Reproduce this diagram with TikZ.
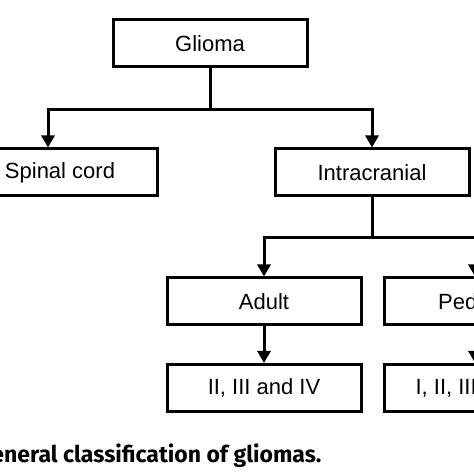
\documentclass[tikz,border=0pt]{standalone}
\usepackage{fontspec}
\setmainfont{Liberation Sans}
\newfontfamily\capfont{Fira Sans}
\usetikzlibrary{arrows.meta,positioning}

\begin{document}
\begin{tikzpicture}[on grid,x=1pt,y=1pt]
	\tikzstyle{class}=[draw,rectangle,line width=3pt,minimum width=194pt,minimum height=47pt,inner sep=0pt,font=\fontsize{22}{26}\selectfont]
	\tikzstyle{branch}=[line width=3pt,-{Triangle[width=13pt,length=12pt]}]
	
	\useasboundingbox (0,0) rectangle (474,474);
	\clip (0,0) rectangle (474,474);
	
	%
	% glioma and its sites
	%
	\node [class] (glioma) at (210,430.5) {Glioma};
	\node [class,below left=129pt and 150pt of glioma] (spinal) {Spinal cord};
	\node [class,below right=129pt and 162pt of glioma] (intra) {Intracranial};
	
	\begin{scope}[branch]
		\draw (glioma.south) -- ++(0,-41) coordinate (split-site) -| ([xshift=-12pt]spinal.north);
		\draw (split-site) -| (intra.north);
	\end{scope}
	
	%
	% intracranial by age and grade
	%
	\node [class,below left=129pt and 108pt of intra] (adult) {Adult};
	\node [class,below right=129pt and 109pt of intra] (pedi) {Pediatric};
	\node [class,below=86.5pt of adult] (adult-grade) {II, III and IV};
	\node [class,below=86.5pt of pedi] (pedi-grade) {I, II, III and IV};
	
	\begin{scope}[branch]
		\draw (intra.south) -- ++(0,-40) coordinate (split-age) -| (adult.north);
		\draw (split-age) -| ([xshift=-6pt]pedi.north);
		\draw (adult) -- (adult-grade);
		\draw ([xshift=-6pt]pedi.south) -- ([xshift=-6pt]pedi-grade.north);
	\end{scope}
	
	% caption
	\node [anchor=base east,font=\capfont\bfseries\fontsize{23}{27}\selectfont] (caption) at (325,11) {General classification of gliomas.};
	
\end{tikzpicture}
\end{document}
